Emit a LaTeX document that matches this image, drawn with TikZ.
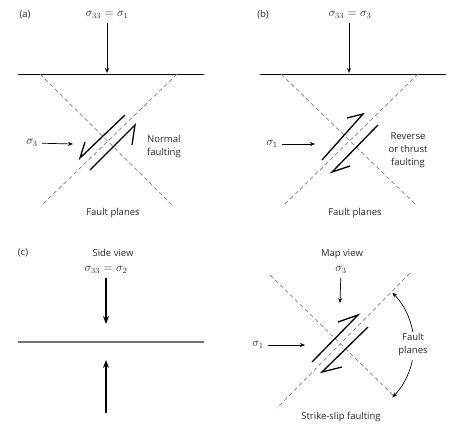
\documentclass[tikz,border=0pt]{standalone}
\usepackage{fontspec}
\setmainfont{Open Sans}
\usetikzlibrary{arrows.meta}

\begin{document}
\begin{tikzpicture}
  [x=1pt, y=-1pt,
   every node/.style={font=\fontsize{9.5}{13}\selectfont, text=black!85, inner sep=1pt},
   sig/.style={font=\fontsize{11.5}{13}\selectfont},
   plane/.style={draw=black!50, dash pattern=on 4pt off 3pt, line width=0.7pt},
   ground/.style={draw=black, line width=0.8pt},
   slip/.style={draw=black, line width=1.3pt, line join=miter},
   push/.style={-{Stealth[length=5pt,width=4pt]}, line width=0.7pt, shorten <=3pt},
   bigpush/.style={-{Stealth[length=8pt,width=6pt]}, line width=1.2pt, shorten <=3pt}]
  \useasboundingbox (0,0) rectangle (470,433);

  % (a) normal faulting
  \node (taga) at (25,15) {(a)};
  \node[sig] (vsiga) at (107,15) {$\sigma_{33}=\sigma_1$};
  \coordinate (topa) at (107,73);
  \draw[push] (vsiga) -- (topa);
  \draw[ground] (18,74) -- (204,74);
  \draw[plane] (40,74) -- (172,205);
  \draw[plane] (177,74) -- (43,204);
  \draw[slip] (125,115) -- (80,158) -- (85,142);
  \draw[slip] (90,170) -- (135,125) -- (132,145);
  \node[sig] (hsiga) at (32,143) {$\sigma_3$};
  \coordinate (sidea) at (73,144);
  \draw[push] (hsiga) -- (sidea);
  \node[anchor=west, align=left] (kinda) at (146,147) {Normal\\faulting};
  \node (planesa) at (113,213) {Fault planes};

  % (b) reverse faulting
  \node (tagb) at (263,15) {(b)};
  \node[sig] (vsigb) at (350,15) {$\sigma_{33}=\sigma_3$};
  \coordinate (topb) at (349,73);
  \draw[push] (vsigb.south -| topb) -- (topb);
  \draw[ground] (260,74) -- (446,74);
  \draw[plane] (281,74) -- (415,204);
  \draw[plane] (418,74) -- (285,204);
  \draw[slip] (322,160) -- (363,114) -- (347,118);
  \draw[slip] (378,125) -- (332,172) -- (350,166);
  \node[sig] (hsigb) at (272,144) {$\sigma_1$};
  \coordinate (sideb) at (315,144);
  \draw[push] (hsigb) -- (sideb);
  \node[align=center] (kindb) at (408,150) {Reverse\\or thrust\\faulting};
  \node (planesb) at (355,213) {Fault planes};

  % (c) side view
  \node (tagc) at (23,253) {(c)};
  \node (viewc) at (113,253) {Side view};
  \node[sig] (vsigc) at (106,270) {$\sigma_{33}=\sigma_2$};
  \coordinate (topc) at (106,324);
  \coordinate (basec) at (106,413);
  \coordinate (botc) at (106,360);
  \draw[bigpush] (vsigc) -- (topc);
  \draw[draw=black!55, line width=1.6pt] (18,342) -- (204,342);
  \draw[bigpush, shorten <=0pt] (basec) -- (botc);

  % (d) map view, strike-slip
  \node (viewd) at (342,254) {Map view};
  \node[sig] (vsigd) at (341,270) {$\sigma_3$};
  \coordinate (topd) at (340,303);
  \draw[push] (vsigd) -- (topd);
  \draw[plane] (270,275) -- (393,395);
  \draw[plane] (410,273) -- (277,408);
  \draw[slip] (312,362) -- (358,315) -- (338,322);
  \draw[slip] (368,327) -- (322,372) -- (342,367);
  \node[sig] (hsigd) at (258,345) {$\sigma_1$};
  \coordinate (sided) at (305,345);
  \draw[push] (hsigd) -- (sided);
  \coordinate (crossd) at (340,345);
  \draw[push, shorten <=0pt] (crossd) ++(-10:74) arc[start angle=-10, end angle=-45, radius=74];
  \draw[push, shorten <=0pt] (crossd) ++(12:74) arc[start angle=12, end angle=45, radius=74];
  \node[align=center] (planesd) at (413,345) {Fault\\planes};
  \node (kindd) at (341,417) {Strike-slip faulting};
\end{tikzpicture}
\end{document}
